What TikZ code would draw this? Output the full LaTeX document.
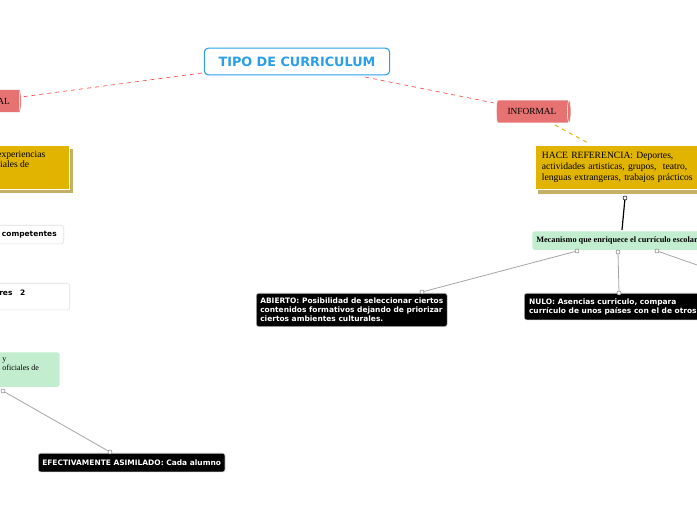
\documentclass[tikz,border=0pt]{standalone}
\usepackage{fontspec}
\setmainfont{Liberation Serif}
\setsansfont{DejaVu Sans}
\usetikzlibrary{shapes.geometric}
\definecolor{tblue}{HTML}{2A9FE8}
\definecolor{cylred}{HTML}{E77272}
\definecolor{ygold}{HTML}{E0B400}
\definecolor{mgreen}{HTML}{C2EDCF}
\tikzset{
 blk/.style={draw=gray!60,fill=black,rounded corners=2pt,text=white,font=\sffamily\bfseries\fontsize{5.6}{6.6}\selectfont,align=left,anchor=north west,inner sep=3pt},
 wht/.style={draw=gray!25,fill=white,rounded corners=2pt,font=\sffamily\bfseries\fontsize{5.6}{6.6}\selectfont,anchor=north west,inner sep=3pt},
 cyl/.style={cylinder,shape border rotate=0,draw=white,fill=cylred,minimum height=56pt,minimum width=17pt,aspect=0.3,font=\fontsize{7}{8}\selectfont,inner sep=2pt},
 ybox/.style={draw=white,fill=ygold,anchor=north west,font=\fontsize{7.2}{8.2}\selectfont,align=left,inner sep=5pt},
 gbox/.style={fill=mgreen,rounded corners=2pt,anchor=north west,inner sep=3pt},
 gl/.style={draw=gray!70,line width=0.6pt},
 dashr/.style={draw=red!70,dashed,line width=0.5pt},
 dot/.style={circle,draw=gray,fill=white,inner sep=0pt,minimum size=3pt}
}
\begin{document}
\begin{tikzpicture}[x=0.75pt,y=-0.75pt]
\clip (0,0) rectangle (697,520);
\fill[white] (0,0) rectangle (697,520);
% title
\node[draw=tblue,fill=white,rounded corners=3pt,line width=0.8pt,text=tblue,font=\sffamily\bfseries\fontsize{9.6}{11}\selectfont,minimum width=139pt,minimum height=20pt] (title) at (297,61.5) {TIPO DE CURRICULUM};
% cylinders
\node[cyl,minimum height=50pt] (formal) at (-13,101) {};
\node[anchor=east,font=\fontsize{7}{8}\selectfont,inner sep=0pt] (formalt) at (10,101) {FORMAL};
\node[cyl] (informal) at (532,111.5) {INFORMAL};
\coordinate (t1) at (202,73);
\coordinate (t2) at (365,77);
\coordinate (f1) at (21,97);
\coordinate (i1) at (494,103);
\draw[dashr] (t1) -- (f1);
\draw[dashr] (t2) -- (i1);
% yellow boxes
\fill[ygold!70!black!60] (-80,149) rectangle (73,193);
\node[ybox,minimum width=112pt,minimum height=33pt] (lyel) at (-80,145) {};
\node[anchor=north west,font=\fontsize{7.2}{8.2}\selectfont,align=left,inner sep=0pt] (lyt) at (-3,151) {experiencias\\[-1pt]\hspace*{-1pt}ciales de};
\fill[ygold!70!black!60] (538,149) rectangle (700,194);
\node[ybox,minimum width=122pt,minimum height=33pt,text width=125pt,align=left] (ryel) at (535,145) {\raggedright HACE REFERENCIA: Deportes,\\ actividades artisticas, grupos,\ \ teatro,\\ lenguas extrangeras, trabajos prácticos};
\coordinate (iy) at (555,125);
\coordinate (ry) at (588,143);
\draw[ygold,dashed,line width=0.7pt] (iy) -- (ry);
% green mecanismo
\node[gbox,minimum width=124pt,minimum height=14pt,font=\bfseries\fontsize{6.2}{7}\selectfont] (mec) at (532,231) {Mecanismo que enriquece el currículo escolar.};
\coordinate (ry2) at (625,198);
\coordinate (m0) at (622,230);
\draw[black,line width=0.9pt] (ry2) -- (m0);
\node[dot,draw=black] at (ry2) {};
% black boxes
\node[blk,minimum width=140pt,minimum height=25pt] (abi) at (256,293) {ABIERTO: Posibilidad de seleccionar ciertos\\contenidos formativos dejando de priorizar\\ciertos ambientes culturales.};
\node[blk,minimum width=135pt,minimum height=20pt] (nulo) at (524,293) {NULO: Asencias curriculo, compara\\currículo de unos países con el de otros.};
\node[blk,minimum width=139pt,minimum height=14pt] (efe) at (38,453) {EFECTIVAMENTE ASIMILADO: Cada alumno};
\coordinate (m1) at (577,251); \coordinate (a1) at (422,292);
\coordinate (m2) at (618,252); \coordinate (n1) at (619,293);
\coordinate (m3) at (657,251); \coordinate (r3) at (700,266);
\draw[gl] (m1) -- (a1); \draw[gl] (m2) -- (n1); \draw[gl] (m3) -- (r3);
\foreach \p in {m1,a1,m2,n1,m3} \node[dot] at (\p) {};
% left white boxes
\node[wht,minimum width=80pt,minimum height=14pt,anchor=north east] (comp) at (64,225) {};
\node[anchor=east,font=\sffamily\bfseries\fontsize{5.6}{6.6}\selectfont,inner sep=0pt] at (57,234.5) {s competentes};
\node[wht,minimum width=80pt,minimum height=20pt,anchor=north east] (res) at (70,283) {};
\node[anchor=west,font=\sffamily\bfseries\fontsize{5.6}{6.6}\selectfont,inner sep=0pt] at (-1,293) {res\ \ \ 2};
% left green
\node[gbox,minimum width=80pt,minimum height=26pt,anchor=north east] (lgr) at (60,352) {};
\node[anchor=north west,font=\fontsize{6}{7}\selectfont,align=left,inner sep=0pt] at (-3,357) {s y\\s oficiales de};
\coordinate (g1) at (3,391); \coordinate (e1) at (110,452);
\draw[gl] (g1) -- (e1);
\node[dot] at (g1) {}; \node[dot] at (e1) {};
\end{tikzpicture}
\end{document}
